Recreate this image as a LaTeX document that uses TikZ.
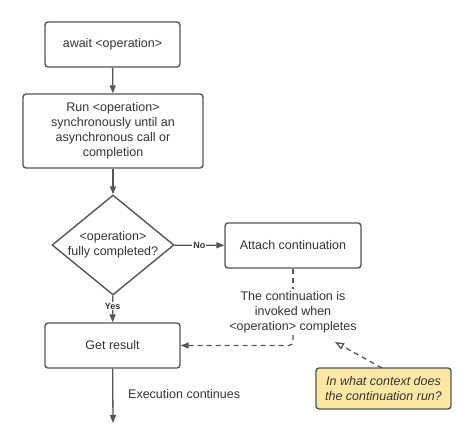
\documentclass[tikz,border=0pt]{standalone}
\usepackage{fontspec}
\setmainfont{Liberation Sans}
\usetikzlibrary{arrows.meta,shapes.geometric}
\definecolor{ln}{HTML}{555555}
\definecolor{txt}{HTML}{333333}
\definecolor{notefill}{HTML}{FCE8A4}
\begin{document}
\begin{tikzpicture}[x=1pt,y=-1pt,
  every node/.style={text=txt, font=\fontsize{12.5}{15}\selectfont},
  procbox/.style={draw=ln, line width=1.4pt, rounded corners=3pt, align=center, inner sep=0pt},
  decbox/.style={draw=ln, line width=1.4pt, diamond, shape aspect=1.22, align=center, inner sep=-4pt},
  notebox/.style={draw=ln, fill=notefill, line width=1.4pt, rounded corners=3pt, align=center, inner sep=0pt, font=\fontsize{12.5}{14.5}\selectfont\itshape},
  flow/.style={draw=ln, line width=1.3pt, -{Triangle[length=8pt,width=6pt]}},
  dflow/.style={draw=ln, line width=1.3pt, dashed, dash pattern=on 5pt off 4pt},
  lbl/.style={font=\fontsize{9}{10}\bfseries\selectfont, fill=white, inner sep=1pt}
]
\useasboundingbox (0,0) rectangle (474,445);
\node[procbox, minimum width=135pt, minimum height=45pt] (await) at (112.5,44.5) {await <operation>};
\node[procbox, minimum width=180pt, minimum height=74pt] (run) at (113,131) {Run <operation>\\synchronously until an\\asynchronous call or\\completion};
\node[decbox, minimum width=122pt, minimum height=100pt] (dec) at (113,245) {<operation>\\fully completed?};
\node[procbox, minimum width=136pt, minimum height=45pt] (attach) at (293,245.5) {Attach continuation};
\node[procbox, minimum width=135pt, minimum height=45pt] (get) at (112.5,345.5) {Get result};
\node[align=center, inner sep=2pt] (cont) at (293,312) {The continuation is\\invoked when\\<operation> completes};
\node[notebox, minimum width=135pt, minimum height=41pt] (note) at (383.5,388.5) {In what context does\\the continuation run?};
\node[anchor=west, inner sep=0pt] (exec) at (128,394) {Execution continues};
\coordinate (end) at (113,423);
\coordinate (tip) at (335,342);
\coordinate (nstart) at (382,368);
\draw[flow] (await) -- (run);
\draw[flow] (run) -- (dec);
\draw[flow] (dec) -- node[lbl] {No} (attach);
\draw[flow] (dec) -- node[lbl, pos=0.4] {Yes} (get);
\draw[flow] (get) -- (end);
\draw[dflow] (attach) -- (cont);
\draw[dflow, rounded corners=4pt, -{Triangle[length=8pt,width=6pt]}] (cont.south) |- (get.east);
\draw[dflow, -{Triangle[open,length=9pt,width=7pt]}] (nstart) -- (tip);
\end{tikzpicture}
\end{document}
